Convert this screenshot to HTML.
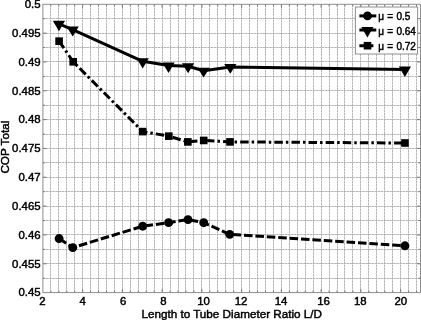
<!DOCTYPE html>
<html><head><meta charset="utf-8"><title>COP Total vs Length to Tube Diameter Ratio</title>
<style>html,body{margin:0;padding:0;background:#fff;}body{width:421px;height:320px;overflow:hidden;}svg{display:block;}text{font-family:"Liberation Sans",sans-serif;fill:#000;stroke:#000;stroke-width:0.45px;}</style>
</head><body>
<svg width="421" height="320" viewBox="0 0 421 320">
<rect x="0" y="0" width="421" height="320" fill="#fff"/>
<defs><filter id="gb" x="-5%" y="-5%" width="110%" height="110%"><feGaussianBlur stdDeviation="0.35"/></filter></defs>
<g stroke="#aaaaaa" stroke-width="0.85" stroke-dasharray="2.6 0.5" fill="none" filter="url(#gb)">
<line x1="50.50" y1="4.30" x2="50.50" y2="292.60"/>
<line x1="58.50" y1="4.30" x2="58.50" y2="292.60"/>
<line x1="66.50" y1="4.30" x2="66.50" y2="292.60"/>
<line x1="74.50" y1="4.30" x2="74.50" y2="292.60"/>
<line x1="82.50" y1="4.30" x2="82.50" y2="292.60"/>
<line x1="90.50" y1="4.30" x2="90.50" y2="292.60"/>
<line x1="98.50" y1="4.30" x2="98.50" y2="292.60"/>
<line x1="106.50" y1="4.30" x2="106.50" y2="292.60"/>
<line x1="114.50" y1="4.30" x2="114.50" y2="292.60"/>
<line x1="122.50" y1="4.30" x2="122.50" y2="292.60"/>
<line x1="130.50" y1="4.30" x2="130.50" y2="292.60"/>
<line x1="138.50" y1="4.30" x2="138.50" y2="292.60"/>
<line x1="146.50" y1="4.30" x2="146.50" y2="292.60"/>
<line x1="154.50" y1="4.30" x2="154.50" y2="292.60"/>
<line x1="162.50" y1="4.30" x2="162.50" y2="292.60"/>
<line x1="170.50" y1="4.30" x2="170.50" y2="292.60"/>
<line x1="178.50" y1="4.30" x2="178.50" y2="292.60"/>
<line x1="185.50" y1="4.30" x2="185.50" y2="292.60"/>
<line x1="193.50" y1="4.30" x2="193.50" y2="292.60"/>
<line x1="201.50" y1="4.30" x2="201.50" y2="292.60"/>
<line x1="209.50" y1="4.30" x2="209.50" y2="292.60"/>
<line x1="217.50" y1="4.30" x2="217.50" y2="292.60"/>
<line x1="225.50" y1="4.30" x2="225.50" y2="292.60"/>
<line x1="233.50" y1="4.30" x2="233.50" y2="292.60"/>
<line x1="241.50" y1="4.30" x2="241.50" y2="292.60"/>
<line x1="249.50" y1="4.30" x2="249.50" y2="292.60"/>
<line x1="257.50" y1="4.30" x2="257.50" y2="292.60"/>
<line x1="265.50" y1="4.30" x2="265.50" y2="292.60"/>
<line x1="273.50" y1="4.30" x2="273.50" y2="292.60"/>
<line x1="281.50" y1="4.30" x2="281.50" y2="292.60"/>
<line x1="289.50" y1="4.30" x2="289.50" y2="292.60"/>
<line x1="297.50" y1="4.30" x2="297.50" y2="292.60"/>
<line x1="305.50" y1="4.30" x2="305.50" y2="292.60"/>
<line x1="313.50" y1="4.30" x2="313.50" y2="292.60"/>
<line x1="321.50" y1="4.30" x2="321.50" y2="292.60"/>
<line x1="329.50" y1="4.30" x2="329.50" y2="292.60"/>
<line x1="337.50" y1="4.30" x2="337.50" y2="292.60"/>
<line x1="344.50" y1="4.30" x2="344.50" y2="292.60"/>
<line x1="352.50" y1="4.30" x2="352.50" y2="292.60"/>
<line x1="360.50" y1="4.30" x2="360.50" y2="292.60"/>
<line x1="368.50" y1="4.30" x2="368.50" y2="292.60"/>
<line x1="376.50" y1="4.30" x2="376.50" y2="292.60"/>
<line x1="384.50" y1="4.30" x2="384.50" y2="292.60"/>
<line x1="392.50" y1="4.30" x2="392.50" y2="292.60"/>
<line x1="400.50" y1="4.30" x2="400.50" y2="292.60"/>
<line x1="408.50" y1="4.30" x2="408.50" y2="292.60"/>
<line x1="416.50" y1="4.30" x2="416.50" y2="292.60"/>
<line x1="42.90" y1="18.50" x2="420.50" y2="18.50"/>
<line x1="42.90" y1="33.50" x2="420.50" y2="33.50"/>
<line x1="42.90" y1="47.50" x2="420.50" y2="47.50"/>
<line x1="42.90" y1="61.50" x2="420.50" y2="61.50"/>
<line x1="42.90" y1="76.50" x2="420.50" y2="76.50"/>
<line x1="42.90" y1="90.50" x2="420.50" y2="90.50"/>
<line x1="42.90" y1="105.50" x2="420.50" y2="105.50"/>
<line x1="42.90" y1="119.50" x2="420.50" y2="119.50"/>
<line x1="42.90" y1="134.50" x2="420.50" y2="134.50"/>
<line x1="42.90" y1="148.50" x2="420.50" y2="148.50"/>
<line x1="42.90" y1="162.50" x2="420.50" y2="162.50"/>
<line x1="42.90" y1="177.50" x2="420.50" y2="177.50"/>
<line x1="42.90" y1="191.50" x2="420.50" y2="191.50"/>
<line x1="42.90" y1="206.50" x2="420.50" y2="206.50"/>
<line x1="42.90" y1="220.50" x2="420.50" y2="220.50"/>
<line x1="42.90" y1="234.50" x2="420.50" y2="234.50"/>
<line x1="42.90" y1="249.50" x2="420.50" y2="249.50"/>
<line x1="42.90" y1="263.50" x2="420.50" y2="263.50"/>
<line x1="42.90" y1="278.50" x2="420.50" y2="278.50"/>
</g>
<g stroke="#777" stroke-width="1" fill="none">
<line x1="50.85" y1="292.60" x2="50.85" y2="290.60"/>
<line x1="50.85" y1="4.30" x2="50.85" y2="6.30"/>
<line x1="58.80" y1="292.60" x2="58.80" y2="290.60"/>
<line x1="58.80" y1="4.30" x2="58.80" y2="6.30"/>
<line x1="66.75" y1="292.60" x2="66.75" y2="290.60"/>
<line x1="66.75" y1="4.30" x2="66.75" y2="6.30"/>
<line x1="74.70" y1="292.60" x2="74.70" y2="290.60"/>
<line x1="74.70" y1="4.30" x2="74.70" y2="6.30"/>
<line x1="82.65" y1="292.60" x2="82.65" y2="289.10"/>
<line x1="82.65" y1="4.30" x2="82.65" y2="7.80"/>
<line x1="90.60" y1="292.60" x2="90.60" y2="290.60"/>
<line x1="90.60" y1="4.30" x2="90.60" y2="6.30"/>
<line x1="98.55" y1="292.60" x2="98.55" y2="290.60"/>
<line x1="98.55" y1="4.30" x2="98.55" y2="6.30"/>
<line x1="106.50" y1="292.60" x2="106.50" y2="290.60"/>
<line x1="106.50" y1="4.30" x2="106.50" y2="6.30"/>
<line x1="114.45" y1="292.60" x2="114.45" y2="290.60"/>
<line x1="114.45" y1="4.30" x2="114.45" y2="6.30"/>
<line x1="122.39" y1="292.60" x2="122.39" y2="289.10"/>
<line x1="122.39" y1="4.30" x2="122.39" y2="7.80"/>
<line x1="130.34" y1="292.60" x2="130.34" y2="290.60"/>
<line x1="130.34" y1="4.30" x2="130.34" y2="6.30"/>
<line x1="138.29" y1="292.60" x2="138.29" y2="290.60"/>
<line x1="138.29" y1="4.30" x2="138.29" y2="6.30"/>
<line x1="146.24" y1="292.60" x2="146.24" y2="290.60"/>
<line x1="146.24" y1="4.30" x2="146.24" y2="6.30"/>
<line x1="154.19" y1="292.60" x2="154.19" y2="290.60"/>
<line x1="154.19" y1="4.30" x2="154.19" y2="6.30"/>
<line x1="162.14" y1="292.60" x2="162.14" y2="289.10"/>
<line x1="162.14" y1="4.30" x2="162.14" y2="7.80"/>
<line x1="170.09" y1="292.60" x2="170.09" y2="290.60"/>
<line x1="170.09" y1="4.30" x2="170.09" y2="6.30"/>
<line x1="178.04" y1="292.60" x2="178.04" y2="290.60"/>
<line x1="178.04" y1="4.30" x2="178.04" y2="6.30"/>
<line x1="185.99" y1="292.60" x2="185.99" y2="290.60"/>
<line x1="185.99" y1="4.30" x2="185.99" y2="6.30"/>
<line x1="193.94" y1="292.60" x2="193.94" y2="290.60"/>
<line x1="193.94" y1="4.30" x2="193.94" y2="6.30"/>
<line x1="201.89" y1="292.60" x2="201.89" y2="289.10"/>
<line x1="201.89" y1="4.30" x2="201.89" y2="7.80"/>
<line x1="209.84" y1="292.60" x2="209.84" y2="290.60"/>
<line x1="209.84" y1="4.30" x2="209.84" y2="6.30"/>
<line x1="217.79" y1="292.60" x2="217.79" y2="290.60"/>
<line x1="217.79" y1="4.30" x2="217.79" y2="6.30"/>
<line x1="225.74" y1="292.60" x2="225.74" y2="290.60"/>
<line x1="225.74" y1="4.30" x2="225.74" y2="6.30"/>
<line x1="233.69" y1="292.60" x2="233.69" y2="290.60"/>
<line x1="233.69" y1="4.30" x2="233.69" y2="6.30"/>
<line x1="241.64" y1="292.60" x2="241.64" y2="289.10"/>
<line x1="241.64" y1="4.30" x2="241.64" y2="7.80"/>
<line x1="249.59" y1="292.60" x2="249.59" y2="290.60"/>
<line x1="249.59" y1="4.30" x2="249.59" y2="6.30"/>
<line x1="257.54" y1="292.60" x2="257.54" y2="290.60"/>
<line x1="257.54" y1="4.30" x2="257.54" y2="6.30"/>
<line x1="265.49" y1="292.60" x2="265.49" y2="290.60"/>
<line x1="265.49" y1="4.30" x2="265.49" y2="6.30"/>
<line x1="273.43" y1="292.60" x2="273.43" y2="290.60"/>
<line x1="273.43" y1="4.30" x2="273.43" y2="6.30"/>
<line x1="281.38" y1="292.60" x2="281.38" y2="289.10"/>
<line x1="281.38" y1="4.30" x2="281.38" y2="7.80"/>
<line x1="289.33" y1="292.60" x2="289.33" y2="290.60"/>
<line x1="289.33" y1="4.30" x2="289.33" y2="6.30"/>
<line x1="297.28" y1="292.60" x2="297.28" y2="290.60"/>
<line x1="297.28" y1="4.30" x2="297.28" y2="6.30"/>
<line x1="305.23" y1="292.60" x2="305.23" y2="290.60"/>
<line x1="305.23" y1="4.30" x2="305.23" y2="6.30"/>
<line x1="313.18" y1="292.60" x2="313.18" y2="290.60"/>
<line x1="313.18" y1="4.30" x2="313.18" y2="6.30"/>
<line x1="321.13" y1="292.60" x2="321.13" y2="289.10"/>
<line x1="321.13" y1="4.30" x2="321.13" y2="7.80"/>
<line x1="329.08" y1="292.60" x2="329.08" y2="290.60"/>
<line x1="329.08" y1="4.30" x2="329.08" y2="6.30"/>
<line x1="337.03" y1="292.60" x2="337.03" y2="290.60"/>
<line x1="337.03" y1="4.30" x2="337.03" y2="6.30"/>
<line x1="344.98" y1="292.60" x2="344.98" y2="290.60"/>
<line x1="344.98" y1="4.30" x2="344.98" y2="6.30"/>
<line x1="352.93" y1="292.60" x2="352.93" y2="290.60"/>
<line x1="352.93" y1="4.30" x2="352.93" y2="6.30"/>
<line x1="360.88" y1="292.60" x2="360.88" y2="289.10"/>
<line x1="360.88" y1="4.30" x2="360.88" y2="7.80"/>
<line x1="368.83" y1="292.60" x2="368.83" y2="290.60"/>
<line x1="368.83" y1="4.30" x2="368.83" y2="6.30"/>
<line x1="376.78" y1="292.60" x2="376.78" y2="290.60"/>
<line x1="376.78" y1="4.30" x2="376.78" y2="6.30"/>
<line x1="384.73" y1="292.60" x2="384.73" y2="290.60"/>
<line x1="384.73" y1="4.30" x2="384.73" y2="6.30"/>
<line x1="392.68" y1="292.60" x2="392.68" y2="290.60"/>
<line x1="392.68" y1="4.30" x2="392.68" y2="6.30"/>
<line x1="400.63" y1="292.60" x2="400.63" y2="289.10"/>
<line x1="400.63" y1="4.30" x2="400.63" y2="7.80"/>
<line x1="408.58" y1="292.60" x2="408.58" y2="290.60"/>
<line x1="408.58" y1="4.30" x2="408.58" y2="6.30"/>
<line x1="416.53" y1="292.60" x2="416.53" y2="290.60"/>
<line x1="416.53" y1="4.30" x2="416.53" y2="6.30"/>
<line x1="42.90" y1="18.71" x2="44.90" y2="18.71"/>
<line x1="420.50" y1="18.71" x2="418.50" y2="18.71"/>
<line x1="42.90" y1="33.13" x2="46.40" y2="33.13"/>
<line x1="420.50" y1="33.13" x2="417.00" y2="33.13"/>
<line x1="42.90" y1="47.55" x2="44.90" y2="47.55"/>
<line x1="420.50" y1="47.55" x2="418.50" y2="47.55"/>
<line x1="42.90" y1="61.96" x2="46.40" y2="61.96"/>
<line x1="420.50" y1="61.96" x2="417.00" y2="61.96"/>
<line x1="42.90" y1="76.38" x2="44.90" y2="76.38"/>
<line x1="420.50" y1="76.38" x2="418.50" y2="76.38"/>
<line x1="42.90" y1="90.79" x2="46.40" y2="90.79"/>
<line x1="420.50" y1="90.79" x2="417.00" y2="90.79"/>
<line x1="42.90" y1="105.20" x2="44.90" y2="105.20"/>
<line x1="420.50" y1="105.20" x2="418.50" y2="105.20"/>
<line x1="42.90" y1="119.62" x2="46.40" y2="119.62"/>
<line x1="420.50" y1="119.62" x2="417.00" y2="119.62"/>
<line x1="42.90" y1="134.04" x2="44.90" y2="134.04"/>
<line x1="420.50" y1="134.04" x2="418.50" y2="134.04"/>
<line x1="42.90" y1="148.45" x2="46.40" y2="148.45"/>
<line x1="420.50" y1="148.45" x2="417.00" y2="148.45"/>
<line x1="42.90" y1="162.87" x2="44.90" y2="162.87"/>
<line x1="420.50" y1="162.87" x2="418.50" y2="162.87"/>
<line x1="42.90" y1="177.28" x2="46.40" y2="177.28"/>
<line x1="420.50" y1="177.28" x2="417.00" y2="177.28"/>
<line x1="42.90" y1="191.70" x2="44.90" y2="191.70"/>
<line x1="420.50" y1="191.70" x2="418.50" y2="191.70"/>
<line x1="42.90" y1="206.11" x2="46.40" y2="206.11"/>
<line x1="420.50" y1="206.11" x2="417.00" y2="206.11"/>
<line x1="42.90" y1="220.53" x2="44.90" y2="220.53"/>
<line x1="420.50" y1="220.53" x2="418.50" y2="220.53"/>
<line x1="42.90" y1="234.94" x2="46.40" y2="234.94"/>
<line x1="420.50" y1="234.94" x2="417.00" y2="234.94"/>
<line x1="42.90" y1="249.36" x2="44.90" y2="249.36"/>
<line x1="420.50" y1="249.36" x2="418.50" y2="249.36"/>
<line x1="42.90" y1="263.77" x2="46.40" y2="263.77"/>
<line x1="420.50" y1="263.77" x2="417.00" y2="263.77"/>
<line x1="42.90" y1="278.19" x2="44.90" y2="278.19"/>
<line x1="420.50" y1="278.19" x2="418.50" y2="278.19"/>
</g>
<rect x="42.90" y="4.30" width="377.60" height="288.30" fill="none" stroke="#8e8e8e" stroke-width="1"/>
<polyline points="58.95,23.80 72.70,29.60 142.70,61.30 168.50,65.60 188.10,66.30 203.60,70.80 230.30,67.00 404.90,69.50" fill="none" stroke="#000" stroke-width="3" stroke-linejoin="round"/>
<polyline points="59.10,41.15 73.20,61.80 142.75,131.60 168.80,136.15 187.85,141.90 203.70,140.45 230.05,141.90 404.95,143.00" fill="none" stroke="#000" stroke-width="3" stroke-dasharray="8.5 3 2.5 3.1" stroke-linejoin="round"/>
<polyline points="59.10,238.55 72.80,247.60 142.70,226.20 168.60,222.65 188.00,219.60 203.70,222.70 229.70,234.35 404.95,245.80" fill="none" stroke="#000" stroke-width="3" stroke-dasharray="8.55 2.87" stroke-linejoin="round"/>
<polygon points="52.85,20.70 65.05,20.70 58.95,31.30" fill="#000"/>
<polygon points="66.60,26.50 78.80,26.50 72.70,36.60" fill="#000"/>
<polygon points="136.60,58.20 148.80,58.20 142.70,68.60" fill="#000"/>
<polygon points="162.40,62.50 174.60,62.50 168.50,72.90" fill="#000"/>
<polygon points="182.00,63.20 194.20,63.20 188.10,73.30" fill="#000"/>
<polygon points="197.50,67.70 209.70,67.70 203.60,77.50" fill="#000"/>
<polygon points="224.20,63.90 236.40,63.90 230.30,73.70" fill="#000"/>
<polygon points="398.80,66.40 411.00,66.40 404.90,77.00" fill="#000"/>
<rect x="55.30" y="37.35" width="7.6" height="7.6" fill="#000"/>
<rect x="69.40" y="58.00" width="7.6" height="7.6" fill="#000"/>
<rect x="138.95" y="127.80" width="7.6" height="7.6" fill="#000"/>
<rect x="165.00" y="132.35" width="7.6" height="7.6" fill="#000"/>
<rect x="184.05" y="138.10" width="7.6" height="7.6" fill="#000"/>
<rect x="199.90" y="136.65" width="7.6" height="7.6" fill="#000"/>
<rect x="226.25" y="138.10" width="7.6" height="7.6" fill="#000"/>
<rect x="401.15" y="139.20" width="7.6" height="7.6" fill="#000"/>
<circle cx="59.10" cy="238.55" r="4.45" fill="#000"/>
<circle cx="72.80" cy="247.60" r="4.45" fill="#000"/>
<circle cx="142.70" cy="226.20" r="4.45" fill="#000"/>
<circle cx="168.60" cy="222.65" r="4.45" fill="#000"/>
<circle cx="188.00" cy="219.60" r="4.45" fill="#000"/>
<circle cx="203.70" cy="222.70" r="4.45" fill="#000"/>
<circle cx="229.70" cy="234.35" r="4.45" fill="#000"/>
<circle cx="404.95" cy="245.80" r="4.45" fill="#000"/>
<rect x="355.4" y="7.0" width="62.20" height="47.00" fill="#fff" stroke="#8e8e8e" stroke-width="1"/>
<line x1="359.4" y1="15.9" x2="376.3" y2="15.9" stroke="#000" stroke-width="3"/>
<circle cx="367.5" cy="15.9" r="4.4" fill="#000"/>
<line x1="359.4" y1="30.0" x2="376.3" y2="30.0" stroke="#000" stroke-width="3"/>
<polygon points="361.3,27.1 373.5,27.1 367.4,37.4" fill="#000"/>
<line x1="359.4" y1="45.7" x2="376.3" y2="45.7" stroke="#000" stroke-width="3" stroke-dasharray="8.5 3 2.5 3.1"/>
<rect x="363.7" y="41.9" width="7.6" height="7.6" fill="#000"/>
<text x="378.3" y="20.1" font-size="10" word-spacing="0.5">μ = 0.5</text>
<text x="378.3" y="35.3" font-size="10" word-spacing="0.5">μ = 0.64</text>
<text x="378.3" y="50.1" font-size="10" word-spacing="0.5">μ = 0.72</text>
<text x="40.6" y="8.10" font-size="11.4" text-anchor="end">0.5</text>
<text x="40.6" y="36.93" font-size="11.4" text-anchor="end">0.495</text>
<text x="40.6" y="65.76" font-size="11.4" text-anchor="end">0.49</text>
<text x="40.6" y="94.59" font-size="11.4" text-anchor="end">0.485</text>
<text x="40.6" y="123.42" font-size="11.4" text-anchor="end">0.48</text>
<text x="40.6" y="152.25" font-size="11.4" text-anchor="end">0.475</text>
<text x="40.6" y="181.08" font-size="11.4" text-anchor="end">0.47</text>
<text x="40.6" y="209.91" font-size="11.4" text-anchor="end">0.465</text>
<text x="40.6" y="238.74" font-size="11.4" text-anchor="end">0.46</text>
<text x="40.6" y="267.57" font-size="11.4" text-anchor="end">0.455</text>
<text x="40.6" y="296.40" font-size="11.4" text-anchor="end">0.45</text>
<text x="42.5" y="305.3" font-size="11.4" text-anchor="middle">2</text>
<text x="82.6" y="305.3" font-size="11.4" text-anchor="middle">4</text>
<text x="123.2" y="305.3" font-size="11.4" text-anchor="middle">6</text>
<text x="163.4" y="305.3" font-size="11.4" text-anchor="middle">8</text>
<text x="203.6" y="305.3" font-size="11.4" text-anchor="middle">10</text>
<text x="241.0" y="305.3" font-size="11.4" text-anchor="middle">12</text>
<text x="281.0" y="305.3" font-size="11.4" text-anchor="middle">14</text>
<text x="323.6" y="305.3" font-size="11.4" text-anchor="middle">16</text>
<text x="360.3" y="305.3" font-size="11.4" text-anchor="middle">18</text>
<text x="400.8" y="305.3" font-size="11.4" text-anchor="middle">20</text>
<text x="141.4" y="317.5" font-size="11.7">Length to Tube Diameter Ratio L/D</text>
<text transform="translate(8.6,173.6) rotate(-90)" font-size="11.7">COP Total</text>
</svg></body></html>
